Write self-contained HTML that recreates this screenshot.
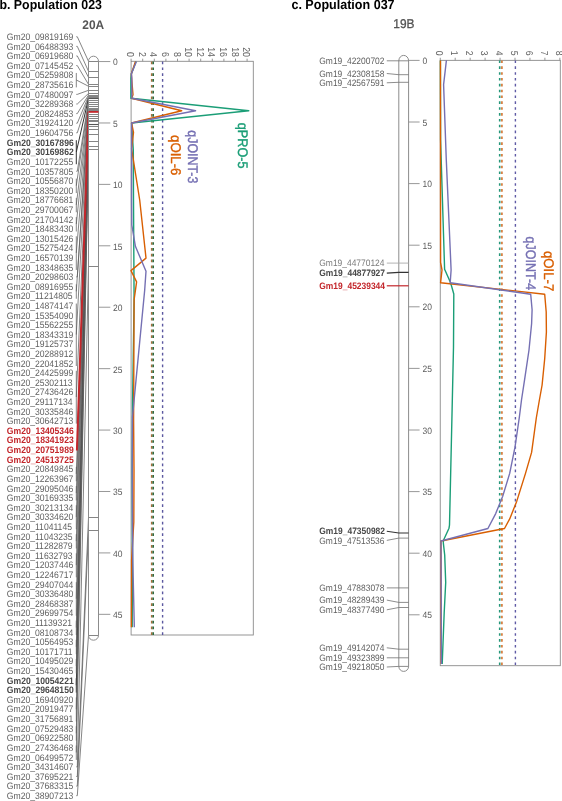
<!DOCTYPE html>
<html><head><meta charset="utf-8"><title>Population 023 / 037 linkage maps</title>
<style>html,body{margin:0;padding:0;background:#fff;width:562px;height:801px;overflow:hidden}body{position:relative}</style>
</head><body>
<svg width="562" height="801" viewBox="0 0 562 801" style="position:absolute;left:0;top:0" text-rendering="geometricPrecision">
<rect x="0" y="0" width="562" height="801" fill="#fff"/>
<text transform="translate(-0.6,9.1) scale(1,1.06)" font-family='"Liberation Sans", Arial, Helvetica, sans-serif' font-size="12.4" font-weight="bold" fill="#000">b. Population 023</text>
<text transform="translate(82.3,28.9) scale(1,1.05)" font-family='"Liberation Sans", Arial, Helvetica, sans-serif' font-size="11.95" font-weight="bold" fill="#555">20A</text>
<text transform="translate(291.4,8.8) scale(1,1.06)" font-family='"Liberation Sans", Arial, Helvetica, sans-serif' font-size="12.55" font-weight="bold" fill="#000">c. Population 037</text>
<text transform="translate(393.3,27.7) scale(1,1.07)" font-family='"Liberation Sans", Arial, Helvetica, sans-serif' font-size="11.9" fill="#555" stroke="#555" stroke-width="0.3">19B</text>
<text transform="translate(6.8,40.00) scale(1,1.1)" font-family='"Liberation Sans", Arial, Helvetica, sans-serif' font-size="8.6" fill="#606060">Gm20_09819169</text>
<text transform="translate(6.8,49.61) scale(1,1.1)" font-family='"Liberation Sans", Arial, Helvetica, sans-serif' font-size="8.6" fill="#606060">Gm20_06488393</text>
<text transform="translate(6.8,59.21) scale(1,1.1)" font-family='"Liberation Sans", Arial, Helvetica, sans-serif' font-size="8.6" fill="#606060">Gm20_06919680</text>
<text transform="translate(6.8,68.82) scale(1,1.1)" font-family='"Liberation Sans", Arial, Helvetica, sans-serif' font-size="8.6" fill="#606060">Gm20_07145452</text>
<text transform="translate(6.8,78.43) scale(1,1.1)" font-family='"Liberation Sans", Arial, Helvetica, sans-serif' font-size="8.6" fill="#606060">Gm20_05259808</text>
<text transform="translate(6.8,88.03) scale(1,1.1)" font-family='"Liberation Sans", Arial, Helvetica, sans-serif' font-size="8.6" fill="#606060">Gm20_28735616</text>
<text transform="translate(6.8,97.64) scale(1,1.1)" font-family='"Liberation Sans", Arial, Helvetica, sans-serif' font-size="8.6" fill="#606060">Gm20_07480097</text>
<text transform="translate(6.8,107.25) scale(1,1.1)" font-family='"Liberation Sans", Arial, Helvetica, sans-serif' font-size="8.6" fill="#606060">Gm20_32289368</text>
<text transform="translate(6.8,116.86) scale(1,1.1)" font-family='"Liberation Sans", Arial, Helvetica, sans-serif' font-size="8.6" fill="#606060">Gm20_20824853</text>
<text transform="translate(6.8,126.46) scale(1,1.1)" font-family='"Liberation Sans", Arial, Helvetica, sans-serif' font-size="8.6" fill="#606060">Gm20_31924120</text>
<text transform="translate(6.8,136.07) scale(1,1.1)" font-family='"Liberation Sans", Arial, Helvetica, sans-serif' font-size="8.6" fill="#606060">Gm20_19604756</text>
<text transform="translate(6.8,145.68) scale(1,1.1)" font-family='"Liberation Sans", Arial, Helvetica, sans-serif' font-size="8.6" font-weight="bold" fill="#484848">Gm20_30167896</text>
<text transform="translate(6.8,155.28) scale(1,1.1)" font-family='"Liberation Sans", Arial, Helvetica, sans-serif' font-size="8.6" font-weight="bold" fill="#484848">Gm20_30169862</text>
<text transform="translate(6.8,164.89) scale(1,1.1)" font-family='"Liberation Sans", Arial, Helvetica, sans-serif' font-size="8.6" fill="#606060">Gm20_10172255</text>
<text transform="translate(6.8,174.50) scale(1,1.1)" font-family='"Liberation Sans", Arial, Helvetica, sans-serif' font-size="8.6" fill="#606060">Gm20_10357805</text>
<text transform="translate(6.8,184.10) scale(1,1.1)" font-family='"Liberation Sans", Arial, Helvetica, sans-serif' font-size="8.6" fill="#606060">Gm20_10556870</text>
<text transform="translate(6.8,193.71) scale(1,1.1)" font-family='"Liberation Sans", Arial, Helvetica, sans-serif' font-size="8.6" fill="#606060">Gm20_18350200</text>
<text transform="translate(6.8,203.32) scale(1,1.1)" font-family='"Liberation Sans", Arial, Helvetica, sans-serif' font-size="8.6" fill="#606060">Gm20_18776681</text>
<text transform="translate(6.8,212.93) scale(1,1.1)" font-family='"Liberation Sans", Arial, Helvetica, sans-serif' font-size="8.6" fill="#606060">Gm20_29700067</text>
<text transform="translate(6.8,222.53) scale(1,1.1)" font-family='"Liberation Sans", Arial, Helvetica, sans-serif' font-size="8.6" fill="#606060">Gm20_21704142</text>
<text transform="translate(6.8,232.14) scale(1,1.1)" font-family='"Liberation Sans", Arial, Helvetica, sans-serif' font-size="8.6" fill="#606060">Gm20_18483430</text>
<text transform="translate(6.8,241.75) scale(1,1.1)" font-family='"Liberation Sans", Arial, Helvetica, sans-serif' font-size="8.6" fill="#606060">Gm20_13015426</text>
<text transform="translate(6.8,251.35) scale(1,1.1)" font-family='"Liberation Sans", Arial, Helvetica, sans-serif' font-size="8.6" fill="#606060">Gm20_15275424</text>
<text transform="translate(6.8,260.96) scale(1,1.1)" font-family='"Liberation Sans", Arial, Helvetica, sans-serif' font-size="8.6" fill="#606060">Gm20_16570139</text>
<text transform="translate(6.8,270.57) scale(1,1.1)" font-family='"Liberation Sans", Arial, Helvetica, sans-serif' font-size="8.6" fill="#606060">Gm20_18348635</text>
<text transform="translate(6.8,280.17) scale(1,1.1)" font-family='"Liberation Sans", Arial, Helvetica, sans-serif' font-size="8.6" fill="#606060">Gm20_20298603</text>
<text transform="translate(6.8,289.78) scale(1,1.1)" font-family='"Liberation Sans", Arial, Helvetica, sans-serif' font-size="8.6" fill="#606060">Gm20_08916955</text>
<text transform="translate(6.8,299.39) scale(1,1.1)" font-family='"Liberation Sans", Arial, Helvetica, sans-serif' font-size="8.6" fill="#606060">Gm20_11214805</text>
<text transform="translate(6.8,309.00) scale(1,1.1)" font-family='"Liberation Sans", Arial, Helvetica, sans-serif' font-size="8.6" fill="#606060">Gm20_14874147</text>
<text transform="translate(6.8,318.60) scale(1,1.1)" font-family='"Liberation Sans", Arial, Helvetica, sans-serif' font-size="8.6" fill="#606060">Gm20_15354090</text>
<text transform="translate(6.8,328.21) scale(1,1.1)" font-family='"Liberation Sans", Arial, Helvetica, sans-serif' font-size="8.6" fill="#606060">Gm20_15562255</text>
<text transform="translate(6.8,337.82) scale(1,1.1)" font-family='"Liberation Sans", Arial, Helvetica, sans-serif' font-size="8.6" fill="#606060">Gm20_18343319</text>
<text transform="translate(6.8,347.42) scale(1,1.1)" font-family='"Liberation Sans", Arial, Helvetica, sans-serif' font-size="8.6" fill="#606060">Gm20_19125737</text>
<text transform="translate(6.8,357.03) scale(1,1.1)" font-family='"Liberation Sans", Arial, Helvetica, sans-serif' font-size="8.6" fill="#606060">Gm20_20288912</text>
<text transform="translate(6.8,366.64) scale(1,1.1)" font-family='"Liberation Sans", Arial, Helvetica, sans-serif' font-size="8.6" fill="#606060">Gm20_22041852</text>
<text transform="translate(6.8,376.25) scale(1,1.1)" font-family='"Liberation Sans", Arial, Helvetica, sans-serif' font-size="8.6" fill="#606060">Gm20_24425999</text>
<text transform="translate(6.8,385.85) scale(1,1.1)" font-family='"Liberation Sans", Arial, Helvetica, sans-serif' font-size="8.6" fill="#606060">Gm20_25302113</text>
<text transform="translate(6.8,395.46) scale(1,1.1)" font-family='"Liberation Sans", Arial, Helvetica, sans-serif' font-size="8.6" fill="#606060">Gm20_27436426</text>
<text transform="translate(6.8,405.07) scale(1,1.1)" font-family='"Liberation Sans", Arial, Helvetica, sans-serif' font-size="8.6" fill="#606060">Gm20_29117134</text>
<text transform="translate(6.8,414.67) scale(1,1.1)" font-family='"Liberation Sans", Arial, Helvetica, sans-serif' font-size="8.6" fill="#606060">Gm20_30335846</text>
<text transform="translate(6.8,424.28) scale(1,1.1)" font-family='"Liberation Sans", Arial, Helvetica, sans-serif' font-size="8.6" fill="#606060">Gm20_30642713</text>
<text transform="translate(6.8,433.89) scale(1,1.1)" font-family='"Liberation Sans", Arial, Helvetica, sans-serif' font-size="8.6" font-weight="bold" fill="#c3262b">Gm20_13405346</text>
<text transform="translate(6.8,443.49) scale(1,1.1)" font-family='"Liberation Sans", Arial, Helvetica, sans-serif' font-size="8.6" font-weight="bold" fill="#c3262b">Gm20_18341923</text>
<text transform="translate(6.8,453.10) scale(1,1.1)" font-family='"Liberation Sans", Arial, Helvetica, sans-serif' font-size="8.6" font-weight="bold" fill="#c3262b">Gm20_20751989</text>
<text transform="translate(6.8,462.71) scale(1,1.1)" font-family='"Liberation Sans", Arial, Helvetica, sans-serif' font-size="8.6" font-weight="bold" fill="#c3262b">Gm20_24513725</text>
<text transform="translate(6.8,472.31) scale(1,1.1)" font-family='"Liberation Sans", Arial, Helvetica, sans-serif' font-size="8.6" fill="#606060">Gm20_20849845</text>
<text transform="translate(6.8,481.92) scale(1,1.1)" font-family='"Liberation Sans", Arial, Helvetica, sans-serif' font-size="8.6" fill="#606060">Gm20_12263967</text>
<text transform="translate(6.8,491.53) scale(1,1.1)" font-family='"Liberation Sans", Arial, Helvetica, sans-serif' font-size="8.6" fill="#606060">Gm20_29095046</text>
<text transform="translate(6.8,501.14) scale(1,1.1)" font-family='"Liberation Sans", Arial, Helvetica, sans-serif' font-size="8.6" fill="#606060">Gm20_30169335</text>
<text transform="translate(6.8,510.74) scale(1,1.1)" font-family='"Liberation Sans", Arial, Helvetica, sans-serif' font-size="8.6" fill="#606060">Gm20_30213134</text>
<text transform="translate(6.8,520.35) scale(1,1.1)" font-family='"Liberation Sans", Arial, Helvetica, sans-serif' font-size="8.6" fill="#606060">Gm20_30334620</text>
<text transform="translate(6.8,529.96) scale(1,1.1)" font-family='"Liberation Sans", Arial, Helvetica, sans-serif' font-size="8.6" fill="#606060">Gm20_11041145</text>
<text transform="translate(6.8,539.56) scale(1,1.1)" font-family='"Liberation Sans", Arial, Helvetica, sans-serif' font-size="8.6" fill="#606060">Gm20_11043235</text>
<text transform="translate(6.8,549.17) scale(1,1.1)" font-family='"Liberation Sans", Arial, Helvetica, sans-serif' font-size="8.6" fill="#606060">Gm20_11282879</text>
<text transform="translate(6.8,558.78) scale(1,1.1)" font-family='"Liberation Sans", Arial, Helvetica, sans-serif' font-size="8.6" fill="#606060">Gm20_11632793</text>
<text transform="translate(6.8,568.38) scale(1,1.1)" font-family='"Liberation Sans", Arial, Helvetica, sans-serif' font-size="8.6" fill="#606060">Gm20_12037446</text>
<text transform="translate(6.8,577.99) scale(1,1.1)" font-family='"Liberation Sans", Arial, Helvetica, sans-serif' font-size="8.6" fill="#606060">Gm20_12246717</text>
<text transform="translate(6.8,587.60) scale(1,1.1)" font-family='"Liberation Sans", Arial, Helvetica, sans-serif' font-size="8.6" fill="#606060">Gm20_29407044</text>
<text transform="translate(6.8,597.21) scale(1,1.1)" font-family='"Liberation Sans", Arial, Helvetica, sans-serif' font-size="8.6" fill="#606060">Gm20_30336480</text>
<text transform="translate(6.8,606.81) scale(1,1.1)" font-family='"Liberation Sans", Arial, Helvetica, sans-serif' font-size="8.6" fill="#606060">Gm20_28468387</text>
<text transform="translate(6.8,616.42) scale(1,1.1)" font-family='"Liberation Sans", Arial, Helvetica, sans-serif' font-size="8.6" fill="#606060">Gm20_29699754</text>
<text transform="translate(6.8,626.03) scale(1,1.1)" font-family='"Liberation Sans", Arial, Helvetica, sans-serif' font-size="8.6" fill="#606060">Gm20_11139321</text>
<text transform="translate(6.8,635.63) scale(1,1.1)" font-family='"Liberation Sans", Arial, Helvetica, sans-serif' font-size="8.6" fill="#606060">Gm20_08108734</text>
<text transform="translate(6.8,645.24) scale(1,1.1)" font-family='"Liberation Sans", Arial, Helvetica, sans-serif' font-size="8.6" fill="#606060">Gm20_10564953</text>
<text transform="translate(6.8,654.85) scale(1,1.1)" font-family='"Liberation Sans", Arial, Helvetica, sans-serif' font-size="8.6" fill="#606060">Gm20_10171711</text>
<text transform="translate(6.8,664.45) scale(1,1.1)" font-family='"Liberation Sans", Arial, Helvetica, sans-serif' font-size="8.6" fill="#606060">Gm20_10495029</text>
<text transform="translate(6.8,674.06) scale(1,1.1)" font-family='"Liberation Sans", Arial, Helvetica, sans-serif' font-size="8.6" fill="#606060">Gm20_15430465</text>
<text transform="translate(6.8,683.67) scale(1,1.1)" font-family='"Liberation Sans", Arial, Helvetica, sans-serif' font-size="8.6" font-weight="bold" fill="#484848">Gm20_10054221</text>
<text transform="translate(6.8,693.28) scale(1,1.1)" font-family='"Liberation Sans", Arial, Helvetica, sans-serif' font-size="8.6" font-weight="bold" fill="#484848">Gm20_29648150</text>
<text transform="translate(6.8,702.88) scale(1,1.1)" font-family='"Liberation Sans", Arial, Helvetica, sans-serif' font-size="8.6" fill="#606060">Gm20_16940920</text>
<text transform="translate(6.8,712.49) scale(1,1.1)" font-family='"Liberation Sans", Arial, Helvetica, sans-serif' font-size="8.6" fill="#606060">Gm20_20919477</text>
<text transform="translate(6.8,722.10) scale(1,1.1)" font-family='"Liberation Sans", Arial, Helvetica, sans-serif' font-size="8.6" fill="#606060">Gm20_31756891</text>
<text transform="translate(6.8,731.70) scale(1,1.1)" font-family='"Liberation Sans", Arial, Helvetica, sans-serif' font-size="8.6" fill="#606060">Gm20_07529483</text>
<text transform="translate(6.8,741.31) scale(1,1.1)" font-family='"Liberation Sans", Arial, Helvetica, sans-serif' font-size="8.6" fill="#606060">Gm20_06922580</text>
<text transform="translate(6.8,750.92) scale(1,1.1)" font-family='"Liberation Sans", Arial, Helvetica, sans-serif' font-size="8.6" fill="#606060">Gm20_27436468</text>
<text transform="translate(6.8,760.52) scale(1,1.1)" font-family='"Liberation Sans", Arial, Helvetica, sans-serif' font-size="8.6" fill="#606060">Gm20_06499572</text>
<text transform="translate(6.8,770.13) scale(1,1.1)" font-family='"Liberation Sans", Arial, Helvetica, sans-serif' font-size="8.6" fill="#606060">Gm20_34314607</text>
<text transform="translate(6.8,779.74) scale(1,1.1)" font-family='"Liberation Sans", Arial, Helvetica, sans-serif' font-size="8.6" fill="#606060">Gm20_37695221</text>
<text transform="translate(6.8,789.35) scale(1,1.1)" font-family='"Liberation Sans", Arial, Helvetica, sans-serif' font-size="8.6" fill="#606060">Gm20_37683315</text>
<text transform="translate(6.8,798.95) scale(1,1.1)" font-family='"Liberation Sans", Arial, Helvetica, sans-serif' font-size="8.6" fill="#606060">Gm20_38907213</text>
<g stroke-linecap="butt">
<polyline points="76.3,36.75 77.3,36.75 88.5,61.30" fill="none" stroke="#5c5c5c" stroke-width="0.75"/>
<polyline points="76.3,46.36 77.3,46.36 88.5,71.30" fill="none" stroke="#5c5c5c" stroke-width="0.75"/>
<polyline points="76.3,55.96 77.3,55.96 88.5,77.30" fill="none" stroke="#5c5c5c" stroke-width="0.75"/>
<polyline points="76.3,65.57 77.3,65.57 88.5,84.40" fill="none" stroke="#5c5c5c" stroke-width="0.75"/>
<line x1="76.3" y1="72.98" x2="76.3" y2="87.38" stroke="#5c5c5c" stroke-width="0.75"/>
<line x1="76.3" y1="79.98" x2="88.5" y2="86.25" stroke="#5c5c5c" stroke-width="0.75"/>
<polyline points="76.3,94.39 77.3,94.39 88.5,90.30" fill="none" stroke="#5c5c5c" stroke-width="0.75"/>
<polyline points="76.3,104.00 77.3,104.00 88.5,93.40" fill="none" stroke="#5c5c5c" stroke-width="0.75"/>
<polyline points="76.3,113.61 77.3,113.61 88.5,95.00" fill="none" stroke="#5c5c5c" stroke-width="0.75"/>
<polyline points="76.3,123.21 77.3,123.21 88.5,96.25" fill="none" stroke="#5c5c5c" stroke-width="0.75"/>
<polyline points="76.3,132.82 77.3,132.82 88.5,97.50" fill="none" stroke="#5c5c5c" stroke-width="0.75"/>
<line x1="76.3" y1="140.23" x2="76.3" y2="164.24" stroke="#333" stroke-width="1.0"/>
<line x1="76.3" y1="152.03" x2="88.5" y2="98.40" stroke="#333" stroke-width="1.0"/>
<polyline points="76.3,171.25 77.3,171.25 88.5,100.60" fill="none" stroke="#5c5c5c" stroke-width="0.75"/>
<line x1="76.3" y1="178.66" x2="76.3" y2="193.06" stroke="#5c5c5c" stroke-width="0.75"/>
<line x1="76.3" y1="185.66" x2="88.5" y2="102.80" stroke="#5c5c5c" stroke-width="0.75"/>
<line x1="76.3" y1="197.87" x2="76.3" y2="212.28" stroke="#5c5c5c" stroke-width="0.75"/>
<line x1="76.3" y1="204.87" x2="88.5" y2="104.70" stroke="#5c5c5c" stroke-width="0.75"/>
<line x1="76.3" y1="217.08" x2="76.3" y2="231.49" stroke="#5c5c5c" stroke-width="0.75"/>
<line x1="76.3" y1="224.09" x2="88.5" y2="106.90" stroke="#5c5c5c" stroke-width="0.75"/>
<line x1="76.3" y1="236.30" x2="76.3" y2="269.92" stroke="#5c5c5c" stroke-width="0.75"/>
<line x1="76.3" y1="252.91" x2="88.5" y2="108.75" stroke="#5c5c5c" stroke-width="0.75"/>
<polyline points="76.3,276.92 77.3,276.92 88.5,109.60" fill="none" stroke="#5c5c5c" stroke-width="0.75"/>
<line x1="76.3" y1="284.33" x2="76.3" y2="298.74" stroke="#5c5c5c" stroke-width="0.75"/>
<line x1="76.3" y1="291.34" x2="88.5" y2="110.20" stroke="#5c5c5c" stroke-width="0.75"/>
<line x1="76.3" y1="303.55" x2="76.3" y2="365.99" stroke="#5c5c5c" stroke-width="0.75"/>
<line x1="76.3" y1="334.57" x2="88.5" y2="110.80" stroke="#5c5c5c" stroke-width="0.75"/>
<line x1="76.3" y1="370.80" x2="76.3" y2="423.63" stroke="#5c5c5c" stroke-width="0.75"/>
<line x1="76.3" y1="397.01" x2="88.5" y2="111.40" stroke="#5c5c5c" stroke-width="0.75"/>
<line x1="76.3" y1="466.86" x2="76.3" y2="481.27" stroke="#5c5c5c" stroke-width="0.75"/>
<line x1="76.3" y1="473.87" x2="88.5" y2="114.00" stroke="#5c5c5c" stroke-width="0.75"/>
<line x1="76.3" y1="486.08" x2="76.3" y2="500.49" stroke="#5c5c5c" stroke-width="0.75"/>
<line x1="76.3" y1="493.08" x2="88.5" y2="116.00" stroke="#5c5c5c" stroke-width="0.75"/>
<line x1="76.3" y1="505.29" x2="76.3" y2="529.31" stroke="#5c5c5c" stroke-width="0.75"/>
<line x1="76.3" y1="517.10" x2="88.5" y2="118.10" stroke="#5c5c5c" stroke-width="0.75"/>
<line x1="76.3" y1="534.11" x2="76.3" y2="548.52" stroke="#5c5c5c" stroke-width="0.75"/>
<line x1="76.3" y1="541.12" x2="88.5" y2="120.00" stroke="#5c5c5c" stroke-width="0.75"/>
<line x1="76.3" y1="553.33" x2="76.3" y2="577.34" stroke="#5c5c5c" stroke-width="0.75"/>
<line x1="76.3" y1="565.13" x2="88.5" y2="121.90" stroke="#5c5c5c" stroke-width="0.75"/>
<line x1="76.3" y1="582.15" x2="76.3" y2="615.77" stroke="#5c5c5c" stroke-width="0.75"/>
<line x1="76.3" y1="598.76" x2="88.5" y2="124.10" stroke="#5c5c5c" stroke-width="0.75"/>
<line x1="76.3" y1="620.58" x2="76.3" y2="634.98" stroke="#5c5c5c" stroke-width="0.75"/>
<line x1="76.3" y1="627.58" x2="88.5" y2="126.40" stroke="#5c5c5c" stroke-width="0.75"/>
<line x1="76.3" y1="639.79" x2="76.3" y2="654.20" stroke="#5c5c5c" stroke-width="0.75"/>
<line x1="76.3" y1="646.79" x2="88.5" y2="129.40" stroke="#5c5c5c" stroke-width="0.75"/>
<line x1="76.3" y1="678.22" x2="76.3" y2="692.63" stroke="#333" stroke-width="1.0"/>
<line x1="76.3" y1="685.22" x2="88.5" y2="124.30" stroke="#333" stroke-width="1.0"/>
<line x1="76.3" y1="659.00" x2="76.3" y2="673.41" stroke="#5c5c5c" stroke-width="0.75"/>
<line x1="76.3" y1="666.01" x2="88.5" y2="134.70" stroke="#5c5c5c" stroke-width="0.75"/>
<line x1="76.3" y1="697.43" x2="76.3" y2="721.45" stroke="#5c5c5c" stroke-width="0.75"/>
<line x1="76.3" y1="709.24" x2="88.5" y2="141.90" stroke="#5c5c5c" stroke-width="0.75"/>
<line x1="76.3" y1="726.25" x2="76.3" y2="740.66" stroke="#5c5c5c" stroke-width="0.75"/>
<line x1="76.3" y1="733.26" x2="88.5" y2="146.60" stroke="#5c5c5c" stroke-width="0.75"/>
<line x1="76.3" y1="745.47" x2="76.3" y2="759.88" stroke="#5c5c5c" stroke-width="0.75"/>
<line x1="76.3" y1="752.47" x2="88.5" y2="149.40" stroke="#5c5c5c" stroke-width="0.75"/>
<polyline points="76.3,766.88 77.3,766.88 88.5,266.50" fill="none" stroke="#5c5c5c" stroke-width="0.75"/>
<polyline points="76.3,776.49 77.3,776.49 88.5,517.40" fill="none" stroke="#5c5c5c" stroke-width="0.75"/>
<polyline points="76.3,786.10 77.3,786.10 88.5,530.60" fill="none" stroke="#5c5c5c" stroke-width="0.75"/>
<polyline points="76.3,795.70 77.3,795.70 88.5,635.40" fill="none" stroke="#5c5c5c" stroke-width="0.75"/>
<line x1="76.9" y1="450.5" x2="88.5" y2="111.90" stroke="#c3262b" stroke-width="2.0"/>
</g>
<path d="M88.5,61.3 A5,5.1 0 0 1 98.5,61.3 L98.5,635.4 A5,4.8 0 0 1 88.5,635.4 Z" fill="#fff" stroke="#8c8c8c" stroke-width="1"/>
<line x1="88.5" y1="61.50" x2="98.5" y2="61.50" stroke="#858585" stroke-width="1.0"/>
<line x1="88.5" y1="71.50" x2="98.5" y2="71.50" stroke="#858585" stroke-width="1.0"/>
<line x1="88.5" y1="77.50" x2="98.5" y2="77.50" stroke="#858585" stroke-width="1.0"/>
<line x1="88.5" y1="84.50" x2="98.5" y2="84.50" stroke="#858585" stroke-width="1.0"/>
<line x1="88.5" y1="86.50" x2="98.5" y2="86.50" stroke="#858585" stroke-width="1.0"/>
<line x1="88.5" y1="90.50" x2="98.5" y2="90.50" stroke="#858585" stroke-width="1.0"/>
<line x1="88.5" y1="93.50" x2="98.5" y2="93.50" stroke="#858585" stroke-width="1.0"/>
<line x1="88.5" y1="95.50" x2="98.5" y2="95.50" stroke="#858585" stroke-width="1.0"/>
<line x1="88.5" y1="96.50" x2="98.5" y2="96.50" stroke="#858585" stroke-width="1.0"/>
<line x1="88.5" y1="97.50" x2="98.5" y2="97.50" stroke="#858585" stroke-width="1.0"/>
<line x1="88.5" y1="100.50" x2="98.5" y2="100.50" stroke="#858585" stroke-width="1.0"/>
<line x1="88.5" y1="102.50" x2="98.5" y2="102.50" stroke="#858585" stroke-width="1.0"/>
<line x1="88.5" y1="104.50" x2="98.5" y2="104.50" stroke="#858585" stroke-width="1.0"/>
<line x1="88.5" y1="106.50" x2="98.5" y2="106.50" stroke="#858585" stroke-width="1.0"/>
<line x1="88.5" y1="108.50" x2="98.5" y2="108.50" stroke="#858585" stroke-width="1.0"/>
<line x1="88.5" y1="109.50" x2="98.5" y2="109.50" stroke="#858585" stroke-width="1.0"/>
<line x1="88.5" y1="110.50" x2="98.5" y2="110.50" stroke="#858585" stroke-width="1.0"/>
<line x1="88.5" y1="110.50" x2="98.5" y2="110.50" stroke="#858585" stroke-width="1.0"/>
<line x1="88.5" y1="111.50" x2="98.5" y2="111.50" stroke="#858585" stroke-width="1.0"/>
<line x1="88.5" y1="114.50" x2="98.5" y2="114.50" stroke="#858585" stroke-width="1.0"/>
<line x1="88.5" y1="116.50" x2="98.5" y2="116.50" stroke="#858585" stroke-width="1.0"/>
<line x1="88.5" y1="118.50" x2="98.5" y2="118.50" stroke="#858585" stroke-width="1.0"/>
<line x1="88.5" y1="120.50" x2="98.5" y2="120.50" stroke="#858585" stroke-width="1.0"/>
<line x1="88.5" y1="121.50" x2="98.5" y2="121.50" stroke="#858585" stroke-width="1.0"/>
<line x1="88.5" y1="124.50" x2="98.5" y2="124.50" stroke="#858585" stroke-width="1.0"/>
<line x1="88.5" y1="126.50" x2="98.5" y2="126.50" stroke="#858585" stroke-width="1.0"/>
<line x1="88.5" y1="129.50" x2="98.5" y2="129.50" stroke="#858585" stroke-width="1.0"/>
<line x1="88.5" y1="134.50" x2="98.5" y2="134.50" stroke="#858585" stroke-width="1.0"/>
<line x1="88.5" y1="141.50" x2="98.5" y2="141.50" stroke="#858585" stroke-width="1.0"/>
<line x1="88.5" y1="146.50" x2="98.5" y2="146.50" stroke="#858585" stroke-width="1.0"/>
<line x1="88.5" y1="149.50" x2="98.5" y2="149.50" stroke="#858585" stroke-width="1.0"/>
<line x1="88.5" y1="266.50" x2="98.5" y2="266.50" stroke="#858585" stroke-width="1.0"/>
<line x1="88.5" y1="517.50" x2="98.5" y2="517.50" stroke="#858585" stroke-width="1.0"/>
<line x1="88.5" y1="530.50" x2="98.5" y2="530.50" stroke="#858585" stroke-width="1.0"/>
<line x1="88.5" y1="635.50" x2="98.5" y2="635.50" stroke="#858585" stroke-width="1.0"/>
<line x1="88.5" y1="98.50" x2="98.5" y2="98.50" stroke="#555" stroke-width="1.1"/>
<line x1="88.5" y1="124.50" x2="98.5" y2="124.50" stroke="#555" stroke-width="1.1"/>
<line x1="88.5" y1="111.90" x2="98.5" y2="111.90" stroke="#c3262b" stroke-width="1.8"/>
<line x1="98.5" y1="61.55" x2="110.3" y2="61.55" stroke="#8c8c8c" stroke-width="0.9"/>
<text transform="translate(112.9,65.45) scale(1,1.08)" font-family='"Liberation Sans", Arial, Helvetica, sans-serif' font-size="8.5" fill="#5a5a5a">0</text>
<line x1="98.5" y1="122.97" x2="110.3" y2="122.97" stroke="#8c8c8c" stroke-width="0.9"/>
<text transform="translate(112.9,126.87) scale(1,1.08)" font-family='"Liberation Sans", Arial, Helvetica, sans-serif' font-size="8.5" fill="#5a5a5a">5</text>
<line x1="98.5" y1="184.39" x2="110.3" y2="184.39" stroke="#8c8c8c" stroke-width="0.9"/>
<text transform="translate(112.9,188.29) scale(1,1.08)" font-family='"Liberation Sans", Arial, Helvetica, sans-serif' font-size="8.5" fill="#5a5a5a">10</text>
<line x1="98.5" y1="245.81" x2="110.3" y2="245.81" stroke="#8c8c8c" stroke-width="0.9"/>
<text transform="translate(112.9,249.71) scale(1,1.08)" font-family='"Liberation Sans", Arial, Helvetica, sans-serif' font-size="8.5" fill="#5a5a5a">15</text>
<line x1="98.5" y1="307.23" x2="110.3" y2="307.23" stroke="#8c8c8c" stroke-width="0.9"/>
<text transform="translate(112.9,311.13) scale(1,1.08)" font-family='"Liberation Sans", Arial, Helvetica, sans-serif' font-size="8.5" fill="#5a5a5a">20</text>
<line x1="98.5" y1="368.65" x2="110.3" y2="368.65" stroke="#8c8c8c" stroke-width="0.9"/>
<text transform="translate(112.9,372.55) scale(1,1.08)" font-family='"Liberation Sans", Arial, Helvetica, sans-serif' font-size="8.5" fill="#5a5a5a">25</text>
<line x1="98.5" y1="430.07" x2="110.3" y2="430.07" stroke="#8c8c8c" stroke-width="0.9"/>
<text transform="translate(112.9,433.97) scale(1,1.08)" font-family='"Liberation Sans", Arial, Helvetica, sans-serif' font-size="8.5" fill="#5a5a5a">30</text>
<line x1="98.5" y1="491.49" x2="110.3" y2="491.49" stroke="#8c8c8c" stroke-width="0.9"/>
<text transform="translate(112.9,495.39) scale(1,1.08)" font-family='"Liberation Sans", Arial, Helvetica, sans-serif' font-size="8.5" fill="#5a5a5a">35</text>
<line x1="98.5" y1="552.91" x2="110.3" y2="552.91" stroke="#8c8c8c" stroke-width="0.9"/>
<text transform="translate(112.9,556.81) scale(1,1.08)" font-family='"Liberation Sans", Arial, Helvetica, sans-serif' font-size="8.5" fill="#5a5a5a">40</text>
<line x1="98.5" y1="614.33" x2="110.3" y2="614.33" stroke="#8c8c8c" stroke-width="0.9"/>
<text transform="translate(112.9,618.23) scale(1,1.08)" font-family='"Liberation Sans", Arial, Helvetica, sans-serif' font-size="8.5" fill="#5a5a5a">45</text>
<rect x="131.1" y="61.3" width="122.20" height="573.70" fill="none" stroke="#8a8a8a" stroke-width="0.9"/>
<line x1="131.10" y1="61.3" x2="131.10" y2="58.70" stroke="#8a8a8a" stroke-width="0.9"/>
<text transform="translate(127.20,57.0) rotate(90) scale(1,1.15)" text-anchor="end" font-family='"Liberation Sans", Arial, Helvetica, sans-serif' font-size="8.8" fill="#606060">0</text>
<line x1="142.70" y1="61.3" x2="142.70" y2="58.70" stroke="#8a8a8a" stroke-width="0.9"/>
<text transform="translate(138.80,57.0) rotate(90) scale(1,1.15)" text-anchor="end" font-family='"Liberation Sans", Arial, Helvetica, sans-serif' font-size="8.8" fill="#606060">2</text>
<line x1="154.30" y1="61.3" x2="154.30" y2="58.70" stroke="#8a8a8a" stroke-width="0.9"/>
<text transform="translate(150.40,57.0) rotate(90) scale(1,1.15)" text-anchor="end" font-family='"Liberation Sans", Arial, Helvetica, sans-serif' font-size="8.8" fill="#606060">4</text>
<line x1="165.90" y1="61.3" x2="165.90" y2="58.70" stroke="#8a8a8a" stroke-width="0.9"/>
<text transform="translate(162.00,57.0) rotate(90) scale(1,1.15)" text-anchor="end" font-family='"Liberation Sans", Arial, Helvetica, sans-serif' font-size="8.8" fill="#606060">6</text>
<line x1="177.50" y1="61.3" x2="177.50" y2="58.70" stroke="#8a8a8a" stroke-width="0.9"/>
<text transform="translate(173.60,57.0) rotate(90) scale(1,1.15)" text-anchor="end" font-family='"Liberation Sans", Arial, Helvetica, sans-serif' font-size="8.8" fill="#606060">8</text>
<line x1="189.10" y1="61.3" x2="189.10" y2="58.70" stroke="#8a8a8a" stroke-width="0.9"/>
<text transform="translate(185.20,57.0) rotate(90) scale(1,1.15)" text-anchor="end" font-family='"Liberation Sans", Arial, Helvetica, sans-serif' font-size="8.8" fill="#606060">10</text>
<line x1="200.70" y1="61.3" x2="200.70" y2="58.70" stroke="#8a8a8a" stroke-width="0.9"/>
<text transform="translate(196.80,57.0) rotate(90) scale(1,1.15)" text-anchor="end" font-family='"Liberation Sans", Arial, Helvetica, sans-serif' font-size="8.8" fill="#606060">12</text>
<line x1="212.30" y1="61.3" x2="212.30" y2="58.70" stroke="#8a8a8a" stroke-width="0.9"/>
<text transform="translate(208.40,57.0) rotate(90) scale(1,1.15)" text-anchor="end" font-family='"Liberation Sans", Arial, Helvetica, sans-serif' font-size="8.8" fill="#606060">14</text>
<line x1="223.90" y1="61.3" x2="223.90" y2="58.70" stroke="#8a8a8a" stroke-width="0.9"/>
<text transform="translate(220.00,57.0) rotate(90) scale(1,1.15)" text-anchor="end" font-family='"Liberation Sans", Arial, Helvetica, sans-serif' font-size="8.8" fill="#606060">16</text>
<line x1="235.50" y1="61.3" x2="235.50" y2="58.70" stroke="#8a8a8a" stroke-width="0.9"/>
<text transform="translate(231.60,57.0) rotate(90) scale(1,1.15)" text-anchor="end" font-family='"Liberation Sans", Arial, Helvetica, sans-serif' font-size="8.8" fill="#606060">18</text>
<line x1="247.10" y1="61.3" x2="247.10" y2="58.70" stroke="#8a8a8a" stroke-width="0.9"/>
<text transform="translate(243.20,57.0) rotate(90) scale(1,1.15)" text-anchor="end" font-family='"Liberation Sans", Arial, Helvetica, sans-serif' font-size="8.8" fill="#606060">20</text>
<line x1="151.7" y1="61.6" x2="151.7" y2="635.0" stroke="#a8703c" stroke-width="1.6" stroke-dasharray="2.7 3.124"/>
<line x1="153.2" y1="61.6" x2="153.2" y2="635.0" stroke="#2f6c42" stroke-width="1.6" stroke-dasharray="2.7 3.124"/>
<line x1="162.6" y1="61.6" x2="162.6" y2="635.0" stroke="#5b57a0" stroke-width="1.4" stroke-dasharray="2.7 3.124"/>
<polyline points="136.00,61.50 131.40,73.70 130.90,78.00 130.90,98.30 248.80,110.80 131.60,123.00 133.30,150.00 133.50,200.00 134.10,300.00 132.60,400.00 132.20,470.00 132.50,560.00 132.20,627.20" fill="none" stroke="#1b9e77" stroke-width="1.4" stroke-linejoin="round"/>
<polyline points="135.50,61.50 131.40,73.70 131.60,78.00 133.00,94.70 131.60,98.30 181.70,110.80 131.60,123.00 133.50,132.50 131.60,148.80 139.70,200.00 146.00,258.10 131.00,270.60 136.60,281.90 134.10,299.70 133.60,420.00 134.00,470.00 133.80,522.00 131.60,560.00 131.40,627.20" fill="none" stroke="#d95f02" stroke-width="1.4" stroke-linejoin="round"/>
<polyline points="136.40,61.50 131.40,73.70 131.80,78.00 131.80,98.30 195.60,110.80 131.60,123.00 131.60,200.00 131.80,225.00 135.40,246.30 146.00,271.30 144.70,290.00 132.50,416.60 132.20,470.00 132.80,560.00 134.30,627.20" fill="none" stroke="#7570b3" stroke-width="1.4" stroke-linejoin="round"/>
<text transform="translate(237.9,122.8) rotate(90) scale(1,1.1)" font-family='"Liberation Sans", Arial, Helvetica, sans-serif' font-size="12.66" fill="#1b9e77" stroke="#1b9e77" stroke-width="0.35">qPRO-5</text>
<text transform="translate(188.2,130.3) rotate(90) scale(1,1.13)" font-family='"Liberation Sans", Arial, Helvetica, sans-serif' font-size="12.4" fill="#7570b3" stroke="#7570b3" stroke-width="0.35">qJOINT-3</text>
<text transform="translate(171.2,135.1) rotate(90) scale(1,1.07)" font-family='"Liberation Sans", Arial, Helvetica, sans-serif' font-size="13.2" fill="#d95f02" stroke="#d95f02" stroke-width="0.35">qOIL-6</text>
<path d="M398.8,60.8 A4.9,5.4 0 0 1 408.6,60.8 L408.6,666.4 A4.9,5.0 0 0 1 398.8,666.4 Z" fill="#fff" stroke="#8c8c8c" stroke-width="1"/>
<text transform="translate(319.3,64.00) scale(1,1.1)" font-family='"Liberation Sans", Arial, Helvetica, sans-serif' font-size="8.45" font-weight="normal" fill="#606060">Gm19_42200702</text>
<polyline points="386.8,60.80 398.8,60.80 408.6,60.80" fill="none" stroke="#707070" stroke-width="0.8"/>
<text transform="translate(319.3,76.70) scale(1,1.1)" font-family='"Liberation Sans", Arial, Helvetica, sans-serif' font-size="8.45" font-weight="normal" fill="#606060">Gm19_42308158</text>
<polyline points="386.8,73.50 398.8,74.70 408.6,74.70" fill="none" stroke="#707070" stroke-width="0.8"/>
<text transform="translate(319.3,86.00) scale(1,1.1)" font-family='"Liberation Sans", Arial, Helvetica, sans-serif' font-size="8.45" font-weight="normal" fill="#606060">Gm19_42567591</text>
<polyline points="386.8,82.80 398.8,82.30 408.6,82.30" fill="none" stroke="#707070" stroke-width="0.8"/>
<text transform="translate(319.3,266.30) scale(1,1.1)" font-family='"Liberation Sans", Arial, Helvetica, sans-serif' font-size="8.45" font-weight="normal" fill="#7a7a7a">Gm19_44770124</text>
<polyline points="386.8,263.10 398.8,263.10 408.6,263.10" fill="none" stroke="#aaa" stroke-width="0.9"/>
<text transform="translate(319.3,276.30) scale(1,1.1)" font-family='"Liberation Sans", Arial, Helvetica, sans-serif' font-size="8.45" font-weight="bold" fill="#484848">Gm19_44877927</text>
<polyline points="386.8,273.10 398.8,272.40 408.6,272.40" fill="none" stroke="#333" stroke-width="1.1"/>
<text transform="translate(319.3,289.00) scale(1,1.1)" font-family='"Liberation Sans", Arial, Helvetica, sans-serif' font-size="8.45" font-weight="bold" fill="#c3262b">Gm19_45239344</text>
<polyline points="386.8,285.80 398.8,285.80 408.6,285.80" fill="none" stroke="#c3262b" stroke-width="1.2"/>
<text transform="translate(319.3,534.40) scale(1,1.1)" font-family='"Liberation Sans", Arial, Helvetica, sans-serif' font-size="8.45" font-weight="bold" fill="#484848">Gm19_47350982</text>
<polyline points="386.8,531.20 398.8,533.00 408.6,533.00" fill="none" stroke="#333" stroke-width="1.1"/>
<text transform="translate(319.3,543.60) scale(1,1.1)" font-family='"Liberation Sans", Arial, Helvetica, sans-serif' font-size="8.45" font-weight="normal" fill="#606060">Gm19_47513536</text>
<polyline points="386.8,540.40 398.8,538.10 408.6,538.10" fill="none" stroke="#707070" stroke-width="0.8"/>
<text transform="translate(319.3,591.10) scale(1,1.1)" font-family='"Liberation Sans", Arial, Helvetica, sans-serif' font-size="8.45" font-weight="normal" fill="#606060">Gm19_47883078</text>
<polyline points="386.8,587.90 398.8,587.90 408.6,587.90" fill="none" stroke="#707070" stroke-width="0.8"/>
<text transform="translate(319.3,603.30) scale(1,1.1)" font-family='"Liberation Sans", Arial, Helvetica, sans-serif' font-size="8.45" font-weight="normal" fill="#606060">Gm19_48289439</text>
<polyline points="386.8,600.10 398.8,602.40 408.6,602.40" fill="none" stroke="#707070" stroke-width="0.8"/>
<text transform="translate(319.3,613.00) scale(1,1.1)" font-family='"Liberation Sans", Arial, Helvetica, sans-serif' font-size="8.45" font-weight="normal" fill="#606060">Gm19_48377490</text>
<polyline points="386.8,609.80 398.8,607.50 408.6,607.50" fill="none" stroke="#707070" stroke-width="0.8"/>
<text transform="translate(319.3,651.00) scale(1,1.1)" font-family='"Liberation Sans", Arial, Helvetica, sans-serif' font-size="8.45" font-weight="normal" fill="#606060">Gm19_49142074</text>
<polyline points="386.8,647.80 398.8,649.20 408.6,649.20" fill="none" stroke="#707070" stroke-width="0.8"/>
<text transform="translate(319.3,661.00) scale(1,1.1)" font-family='"Liberation Sans", Arial, Helvetica, sans-serif' font-size="8.45" font-weight="normal" fill="#606060">Gm19_49323899</text>
<polyline points="386.8,657.80 398.8,657.80 408.6,657.80" fill="none" stroke="#707070" stroke-width="0.8"/>
<text transform="translate(319.3,670.20) scale(1,1.1)" font-family='"Liberation Sans", Arial, Helvetica, sans-serif' font-size="8.45" font-weight="normal" fill="#606060">Gm19_49218050</text>
<polyline points="386.8,667.00 398.8,666.40 408.6,666.40" fill="none" stroke="#707070" stroke-width="0.8"/>
<line x1="408.6" y1="60.40" x2="419.6" y2="60.40" stroke="#8c8c8c" stroke-width="0.9"/>
<text transform="translate(422.4,64.00) scale(1,1.08)" font-family='"Liberation Sans", Arial, Helvetica, sans-serif' font-size="8.5" fill="#5a5a5a">0</text>
<line x1="408.6" y1="122.00" x2="419.6" y2="122.00" stroke="#8c8c8c" stroke-width="0.9"/>
<text transform="translate(422.4,125.60) scale(1,1.08)" font-family='"Liberation Sans", Arial, Helvetica, sans-serif' font-size="8.5" fill="#5a5a5a">5</text>
<line x1="408.6" y1="183.60" x2="419.6" y2="183.60" stroke="#8c8c8c" stroke-width="0.9"/>
<text transform="translate(422.4,187.20) scale(1,1.08)" font-family='"Liberation Sans", Arial, Helvetica, sans-serif' font-size="8.5" fill="#5a5a5a">10</text>
<line x1="408.6" y1="245.20" x2="419.6" y2="245.20" stroke="#8c8c8c" stroke-width="0.9"/>
<text transform="translate(422.4,248.80) scale(1,1.08)" font-family='"Liberation Sans", Arial, Helvetica, sans-serif' font-size="8.5" fill="#5a5a5a">15</text>
<line x1="408.6" y1="306.80" x2="419.6" y2="306.80" stroke="#8c8c8c" stroke-width="0.9"/>
<text transform="translate(422.4,310.40) scale(1,1.08)" font-family='"Liberation Sans", Arial, Helvetica, sans-serif' font-size="8.5" fill="#5a5a5a">20</text>
<line x1="408.6" y1="368.40" x2="419.6" y2="368.40" stroke="#8c8c8c" stroke-width="0.9"/>
<text transform="translate(422.4,372.00) scale(1,1.08)" font-family='"Liberation Sans", Arial, Helvetica, sans-serif' font-size="8.5" fill="#5a5a5a">25</text>
<line x1="408.6" y1="430.00" x2="419.6" y2="430.00" stroke="#8c8c8c" stroke-width="0.9"/>
<text transform="translate(422.4,433.60) scale(1,1.08)" font-family='"Liberation Sans", Arial, Helvetica, sans-serif' font-size="8.5" fill="#5a5a5a">30</text>
<line x1="408.6" y1="491.60" x2="419.6" y2="491.60" stroke="#8c8c8c" stroke-width="0.9"/>
<text transform="translate(422.4,495.20) scale(1,1.08)" font-family='"Liberation Sans", Arial, Helvetica, sans-serif' font-size="8.5" fill="#5a5a5a">35</text>
<line x1="408.6" y1="553.20" x2="419.6" y2="553.20" stroke="#8c8c8c" stroke-width="0.9"/>
<text transform="translate(422.4,556.80) scale(1,1.08)" font-family='"Liberation Sans", Arial, Helvetica, sans-serif' font-size="8.5" fill="#5a5a5a">40</text>
<line x1="408.6" y1="614.80" x2="419.6" y2="614.80" stroke="#8c8c8c" stroke-width="0.9"/>
<text transform="translate(422.4,618.40) scale(1,1.08)" font-family='"Liberation Sans", Arial, Helvetica, sans-serif' font-size="8.5" fill="#5a5a5a">45</text>
<rect x="440.25" y="60.35" width="120.05" height="605.35" fill="none" stroke="#8a8a8a" stroke-width="0.9"/>
<line x1="440.25" y1="60.35" x2="440.25" y2="57.75" stroke="#8a8a8a" stroke-width="0.9"/>
<text transform="translate(436.15,55.6) rotate(90) scale(1,1.15)" text-anchor="end" font-family='"Liberation Sans", Arial, Helvetica, sans-serif' font-size="8.6" fill="#606060">0</text>
<line x1="455.20" y1="60.35" x2="455.20" y2="57.75" stroke="#8a8a8a" stroke-width="0.9"/>
<text transform="translate(451.10,55.6) rotate(90) scale(1,1.15)" text-anchor="end" font-family='"Liberation Sans", Arial, Helvetica, sans-serif' font-size="8.6" fill="#606060">1</text>
<line x1="470.15" y1="60.35" x2="470.15" y2="57.75" stroke="#8a8a8a" stroke-width="0.9"/>
<text transform="translate(466.05,55.6) rotate(90) scale(1,1.15)" text-anchor="end" font-family='"Liberation Sans", Arial, Helvetica, sans-serif' font-size="8.6" fill="#606060">2</text>
<line x1="485.10" y1="60.35" x2="485.10" y2="57.75" stroke="#8a8a8a" stroke-width="0.9"/>
<text transform="translate(481.00,55.6) rotate(90) scale(1,1.15)" text-anchor="end" font-family='"Liberation Sans", Arial, Helvetica, sans-serif' font-size="8.6" fill="#606060">3</text>
<line x1="500.05" y1="60.35" x2="500.05" y2="57.75" stroke="#8a8a8a" stroke-width="0.9"/>
<text transform="translate(495.95,55.6) rotate(90) scale(1,1.15)" text-anchor="end" font-family='"Liberation Sans", Arial, Helvetica, sans-serif' font-size="8.6" fill="#606060">4</text>
<line x1="515.00" y1="60.35" x2="515.00" y2="57.75" stroke="#8a8a8a" stroke-width="0.9"/>
<text transform="translate(510.90,55.6) rotate(90) scale(1,1.15)" text-anchor="end" font-family='"Liberation Sans", Arial, Helvetica, sans-serif' font-size="8.6" fill="#606060">5</text>
<line x1="529.95" y1="60.35" x2="529.95" y2="57.75" stroke="#8a8a8a" stroke-width="0.9"/>
<text transform="translate(525.85,55.6) rotate(90) scale(1,1.15)" text-anchor="end" font-family='"Liberation Sans", Arial, Helvetica, sans-serif' font-size="8.6" fill="#606060">6</text>
<line x1="544.90" y1="60.35" x2="544.90" y2="57.75" stroke="#8a8a8a" stroke-width="0.9"/>
<text transform="translate(540.80,55.6) rotate(90) scale(1,1.15)" text-anchor="end" font-family='"Liberation Sans", Arial, Helvetica, sans-serif' font-size="8.6" fill="#606060">7</text>
<line x1="559.85" y1="60.35" x2="559.85" y2="57.75" stroke="#8a8a8a" stroke-width="0.9"/>
<text transform="translate(555.75,55.6) rotate(90) scale(1,1.15)" text-anchor="end" font-family='"Liberation Sans", Arial, Helvetica, sans-serif' font-size="8.6" fill="#606060">8</text>
<line x1="499.7" y1="60.45" x2="499.7" y2="665.7" stroke="#25977a" stroke-width="1.6" stroke-dasharray="2.6 3.245"/>
<line x1="501.9" y1="60.45" x2="501.9" y2="665.7" stroke="#d88246" stroke-width="1.8" stroke-dasharray="2.6 3.245"/>
<line x1="515.4" y1="60.45" x2="515.4" y2="665.7" stroke="#5f5aa5" stroke-width="1.4" stroke-dasharray="2.6 3.245"/>
<polyline points="440.40,60.40 440.60,140.00 441.20,160.00 444.60,269.20 450.60,282.70 453.80,294.00 453.50,347.00 452.10,410.00 449.50,525.00 449.00,528.20 443.60,540.00 443.30,542.60 444.70,555.00 445.70,582.50 444.20,612.50 442.20,664.00" fill="none" stroke="#1b9e77" stroke-width="1.4" stroke-linejoin="round"/>
<polyline points="440.45,60.40 440.50,160.00 440.60,262.50 442.00,270.00 440.60,282.70 544.70,294.20 546.20,312.00 546.40,332.00 544.70,358.70 542.10,385.00 539.40,400.00 536.30,418.00 531.60,452.40 525.50,473.40 516.70,501.40 509.70,518.90 504.50,528.50 441.00,541.00 441.00,600.00 441.20,664.00" fill="none" stroke="#d95f02" stroke-width="1.4" stroke-linejoin="round"/>
<polyline points="446.40,60.40 443.60,84.60 446.30,160.00 451.10,270.00 450.20,282.70 530.70,294.20 532.10,309.70 531.60,323.70 529.00,350.00 524.60,379.70 521.50,400.00 519.30,417.50 515.00,447.20 509.70,473.40 502.70,496.20 495.70,513.60 487.90,528.50 441.00,541.00 441.20,600.00 441.40,664.00" fill="none" stroke="#7570b3" stroke-width="1.4" stroke-linejoin="round"/>
<text transform="translate(526.0,236.6) rotate(90) scale(1,1.12)" font-family='"Liberation Sans", Arial, Helvetica, sans-serif' font-size="12.5" fill="#7570b3" stroke="#7570b3" stroke-width="0.35">qJOINT-4</text>
<text transform="translate(543.9,250.9) rotate(90) scale(1,1.06)" font-family='"Liberation Sans", Arial, Helvetica, sans-serif' font-size="13.2" fill="#d95f02" stroke="#d95f02" stroke-width="0.35">qOIL-7</text>
</svg>
</body></html>
